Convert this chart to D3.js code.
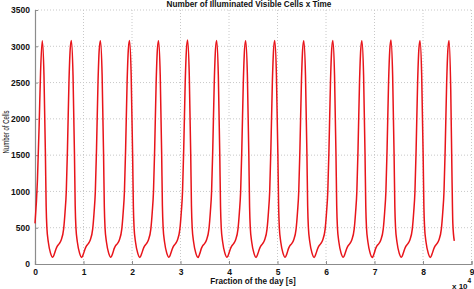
<!DOCTYPE html>
<html>
<head>
<meta charset="utf-8">
<script src="https://cdn.jsdelivr.net/npm/d3@7"></script>
<style>
  html, body { margin: 0; padding: 0; background: #fff; }
  svg { display: block; }
  text { font-family: Arial, "Liberation Sans", Helvetica, sans-serif; }
</style>
</head>
<body>
<svg id="chart" width="474" height="289"></svg>
<script>
// ---- Data (time in units of 10^4 s, number of illuminated visible cells) ----
const chartTitle = "Number of Illuminated Visible Cells x Time";
const xLabel = "Fraction of the day [s]";
const yLabel = "Number of Cells";
const xTicks = [0, 1, 2, 3, 4, 5, 6, 7, 8, 9];
const yTicks = [0, 500, 1000, 1500, 2000, 2500, 3000, 3500];

const time = [
  0.000, 0.050, 0.085, 0.115,
  0.150, 0.185, 0.215, 0.230, 0.245, 0.275, 0.320, 0.365, 0.400, 0.435, 0.460, 0.500, 0.540, 0.590, 0.620, 0.645, 0.670, 0.700, 0.725,
  0.749, 0.784, 0.814, 0.829, 0.844, 0.874, 0.919, 0.964, 0.999, 1.034, 1.059, 1.099, 1.139, 1.189, 1.219, 1.244, 1.269, 1.299, 1.324,
  1.349, 1.384, 1.414, 1.429, 1.444, 1.474, 1.519, 1.564, 1.599, 1.634, 1.659, 1.699, 1.739, 1.789, 1.819, 1.844, 1.869, 1.899, 1.924,
  1.948, 1.983, 2.013, 2.028, 2.043, 2.073, 2.118, 2.163, 2.198, 2.233, 2.258, 2.298, 2.338, 2.388, 2.418, 2.443, 2.468, 2.498, 2.523,
  2.547, 2.582, 2.612, 2.627, 2.642, 2.672, 2.717, 2.762, 2.797, 2.832, 2.857, 2.897, 2.937, 2.987, 3.017, 3.042, 3.067, 3.097, 3.122,
  3.146, 3.181, 3.211, 3.226, 3.241, 3.271, 3.316, 3.361, 3.396, 3.431, 3.456, 3.496, 3.536, 3.586, 3.616, 3.641, 3.666, 3.696, 3.721,
  3.745, 3.780, 3.810, 3.825, 3.840, 3.870, 3.915, 3.960, 3.995, 4.030, 4.055, 4.095, 4.135, 4.185, 4.215, 4.240, 4.265, 4.295, 4.320,
  4.344, 4.379, 4.409, 4.424, 4.439, 4.469, 4.514, 4.559, 4.594, 4.629, 4.654, 4.694, 4.734, 4.784, 4.814, 4.839, 4.864, 4.894, 4.919,
  4.943, 4.978, 5.008, 5.023, 5.038, 5.068, 5.113, 5.158, 5.193, 5.228, 5.253, 5.293, 5.333, 5.383, 5.413, 5.438, 5.463, 5.493, 5.518,
  5.542, 5.577, 5.607, 5.622, 5.637, 5.667, 5.712, 5.757, 5.792, 5.827, 5.852, 5.892, 5.932, 5.982, 6.012, 6.037, 6.062, 6.092, 6.117,
  6.141, 6.176, 6.206, 6.221, 6.236, 6.266, 6.311, 6.356, 6.391, 6.426, 6.451, 6.491, 6.531, 6.581, 6.611, 6.636, 6.661, 6.691, 6.716,
  6.740, 6.775, 6.805, 6.820, 6.835, 6.865, 6.910, 6.955, 6.990, 7.025, 7.050, 7.090, 7.130, 7.180, 7.210, 7.235, 7.260, 7.290, 7.315,
  7.339, 7.374, 7.404, 7.419, 7.434, 7.464, 7.509, 7.554, 7.589, 7.624, 7.649, 7.689, 7.729, 7.779, 7.809, 7.834, 7.859, 7.889, 7.914,
  7.938, 7.973, 8.003, 8.018, 8.033, 8.063, 8.108, 8.153, 8.188, 8.223, 8.248, 8.288, 8.328, 8.378, 8.408, 8.433, 8.458, 8.488, 8.513,
  8.537, 8.572, 8.598, 8.615, 8.645
];

const cells = [
  560, 1150, 1900, 2650,
  3075, 2600, 1500, 800, 500, 300, 150, 92, 140, 210, 245, 280, 330, 480, 720, 1000, 1600, 2500, 2950,
  3080, 2600, 1500, 800, 500, 300, 150, 90, 140, 210, 245, 280, 330, 480, 720, 1000, 1600, 2500, 2950,
  3075, 2600, 1500, 800, 500, 300, 150, 92, 140, 215, 250, 280, 330, 480, 720, 1000, 1600, 2500, 2950,
  3080, 2600, 1500, 800, 500, 300, 150, 90, 140, 210, 245, 280, 330, 480, 720, 1000, 1600, 2500, 2950,
  3075, 2600, 1500, 800, 500, 300, 150, 92, 140, 210, 245, 280, 330, 480, 720, 1000, 1600, 2500, 2950,
  3085, 2600, 1500, 800, 500, 300, 150, 90, 140, 215, 250, 280, 330, 480, 720, 1000, 1600, 2500, 2950,
  3080, 2600, 1500, 800, 500, 300, 150, 92, 140, 210, 245, 280, 330, 480, 720, 1000, 1600, 2500, 2950,
  3075, 2600, 1500, 800, 500, 300, 150, 90, 140, 210, 245, 280, 330, 480, 720, 1000, 1600, 2500, 2950,
  3080, 2600, 1500, 800, 500, 300, 150, 92, 140, 215, 250, 280, 330, 480, 720, 1000, 1600, 2500, 2950,
  3075, 2600, 1500, 800, 500, 300, 150, 90, 140, 210, 245, 280, 330, 480, 720, 1000, 1600, 2500, 2950,
  3080, 2600, 1500, 800, 500, 300, 150, 92, 140, 210, 245, 280, 330, 480, 720, 1000, 1600, 2500, 2950,
  3075, 2600, 1500, 800, 500, 300, 150, 90, 140, 215, 250, 280, 330, 480, 720, 1000, 1600, 2500, 2950,
  3085, 2600, 1500, 800, 500, 300, 150, 92, 140, 210, 245, 280, 330, 480, 720, 1000, 1600, 2500, 2950,
  3075, 2600, 1500, 800, 500, 300, 150, 90, 140, 210, 245, 280, 330, 480, 720, 1000, 1600, 2500, 2950,
  3080, 2400, 1200, 560, 320
];

// ---- Layout ----
const svg = d3.select("#chart");
const plot = { left: 35, right: 471.5, top: 10, bottom: 264 };

const x = d3.scaleLinear().domain([0, 9]).range([plot.left, plot.right]);
const y = d3.scaleLinear().domain([0, 3500]).range([plot.bottom, plot.top]);

// Grid lines (dotted)
const grid = svg.append("g").attr("class", "grid");
grid.selectAll("line.vx").data(xTicks.filter(d => d > 0)).enter().append("line")
  .attr("x1", d => x(d)).attr("x2", d => x(d))
  .attr("y1", plot.top).attr("y2", plot.bottom)
  .attr("stroke", "#c8c8c8").attr("stroke-width", 1).attr("stroke-dasharray", "1,2");
grid.selectAll("line.hy").data(yTicks.filter(d => d > 0)).enter().append("line")
  .attr("x1", plot.left).attr("x2", plot.right)
  .attr("y1", d => y(d)).attr("y2", d => y(d))
  .attr("stroke", "#c8c8c8").attr("stroke-width", 1).attr("stroke-dasharray", "1,2");

// Axes
const xAxis = d3.axisBottom(x).tickValues(xTicks).tickSize(-3).tickPadding(6).tickFormat(d3.format("d"));
const yAxis = d3.axisLeft(y).tickValues(yTicks).tickSize(-3).tickPadding(5).tickFormat(d3.format("d"));

const gx = svg.append("g").attr("transform", `translate(0,${plot.bottom})`).call(xAxis);
const gy = svg.append("g").attr("transform", `translate(${plot.left},0)`).call(yAxis);

[gx, gy].forEach(g => {
  g.select(".domain").attr("stroke", "#8c8c8c").attr("stroke-width", 1.2);
  g.selectAll(".tick line").attr("stroke", "#8c8c8c");
  g.selectAll(".tick text")
    .attr("font-family", "Arial, 'Liberation Sans', sans-serif")
    .attr("font-size", 8.5).attr("font-weight", "bold").attr("fill", "#111");
});
gx.selectAll(".tick text").attr("dy", "0.55em");

// Line
const line = d3.line()
  .x((d, i) => x(time[i]))
  .y((d, i) => y(cells[i]))
  .curve(d3.curveMonotoneX);

svg.append("path")
  .datum(cells)
  .attr("fill", "none")
  .attr("stroke", "#e8141a")
  .attr("stroke-width", 1.5)
  .attr("stroke-linejoin", "round")
  .attr("d", line);

// Title
svg.append("text")
  .attr("x", 249).attr("y", 7)
  .attr("text-anchor", "middle")
  .attr("font-size", 8.2).attr("font-weight", "bold").attr("fill", "#111")
  .text(chartTitle);

// X label
svg.append("text")
  .attr("x", 253).attr("y", 284)
  .attr("text-anchor", "middle")
  .attr("font-size", 8.2).attr("font-weight", "bold").attr("fill", "#111")
  .text(xLabel);

// Exponent "x 10^4"
const expo = svg.append("text")
  .attr("x", 452).attr("y", 288.5)
  .attr("font-size", 8).attr("font-weight", "bold").attr("fill", "#111");
expo.append("tspan").text("x 10");
expo.append("tspan").attr("dy", -6).attr("font-size", 6.5).text("4");

// Y label
svg.append("text")
  .attr("transform", "translate(8.5,132) rotate(-90)")
  .attr("text-anchor", "middle")
  .attr("font-family", "'Liberation Sans Narrow', 'Arial Narrow', Arial, sans-serif")
  .attr("font-size", 9).attr("fill", "#111")
  .attr("textLength", 43).attr("lengthAdjust", "spacingAndGlyphs")
  .text(yLabel);
</script>
</body>
</html>
